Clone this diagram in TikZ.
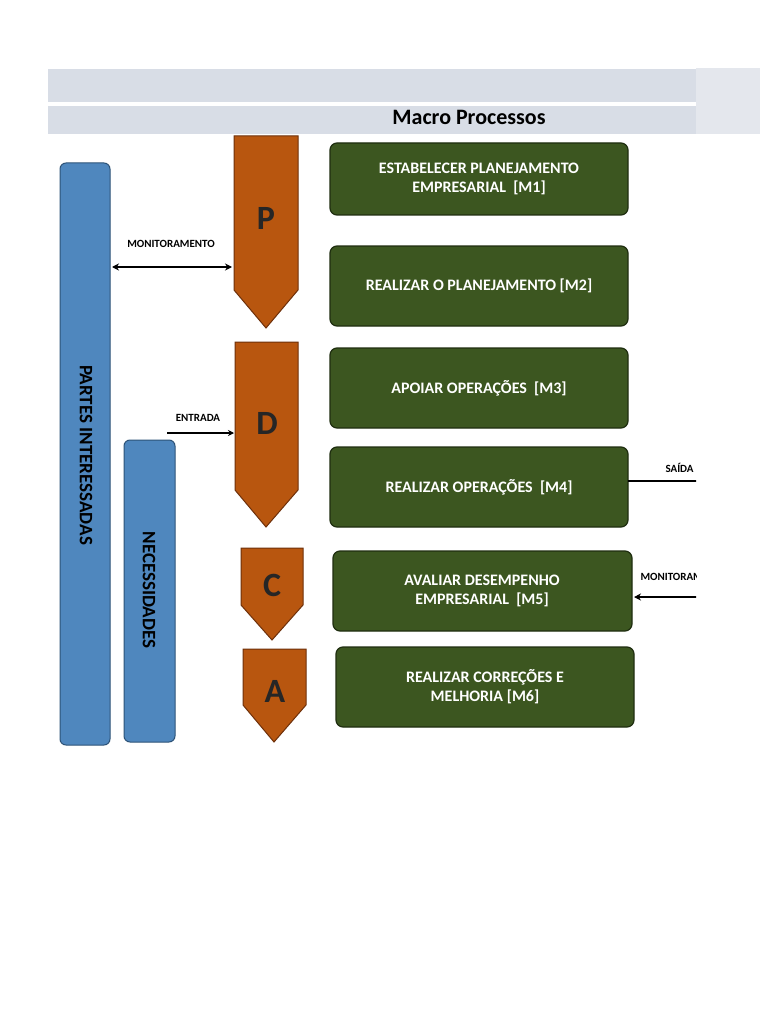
\documentclass[tikz,border=0pt]{standalone}
\usepackage{fontspec}
\setmainfont{Carlito}
\usetikzlibrary{arrows.meta}
\definecolor{band}{HTML}{D8DDE6}
\definecolor{gbox}{HTML}{3C5620}
\definecolor{gedge}{HTML}{1F2E10}
\definecolor{orng}{HTML}{B8560F}
\definecolor{oedge}{HTML}{6E300A}
\definecolor{blu}{HTML}{4F87BE}
\definecolor{bedge}{HTML}{2D5378}
\begin{document}
\begin{tikzpicture}[x=1pt,y=-1pt,
 gb/.style={fill=gbox,draw=gedge,line width=1.2pt,rounded corners=7pt},
 gt/.style={text=white,font=\bfseries\fontsize{16}{19}\selectfont,align=center},
 ob/.style={fill=orng,draw=oedge,line width=1pt},
 ol/.style={font=\bfseries\fontsize{34}{36}\selectfont,text=black!85},
 bb/.style={fill=blu,draw=bedge,line width=1pt,rounded corners=6pt},
 lab/.style={font=\bfseries\fontsize{11}{13}\selectfont},
 arr/.style={line width=2pt,-{Stealth[length=7pt,width=7pt]}}]
\useasboundingbox (0,0) rectangle (768,1024);
\fill[white] (0,0) rectangle (768,1024);
% header
\fill[band] (48,69) rectangle (696,102);
\fill[band] (48,106) rectangle (696,134);
\fill[band!70!white] (696,68) rectangle (760,134);
\node[font=\bfseries\fontsize{22}{24}\selectfont] (title) at (469,117) {Macro Processos};
% blue bars
\draw[bb] (60,163) rectangle (110,745);
\node[rotate=-90,font=\bfseries\fontsize{19}{21}\selectfont] (pi) at (86,455) {PARTES INTERESSADAS};
\draw[bb] (124,440) rectangle (175,742);
\node[rotate=-90,font=\bfseries\fontsize{19}{21}\selectfont] (nec) at (149,590) {NECESSIDADES};
% orange arrows
\draw[ob] (234,136) -- (298,136) -- (298,290) -- (266,328) -- (234,290) -- cycle;
\node[ol] (P) at (266,218) {P};
\draw[ob] (235,342) -- (298,342) -- (298,490) -- (266,527) -- (235,490) -- cycle;
\node[ol] (D) at (267,423) {D};
\draw[ob] (241,548) -- (303,548) -- (303,605) -- (272,640) -- (241,605) -- cycle;
\node[ol] (C) at (272,585) {C};
\draw[ob] (243,649) -- (306,649) -- (306,705) -- (274,742) -- (243,705) -- cycle;
\node[ol] (A) at (275,691) {A};
% green boxes
\draw[gb] (330,143) rectangle (628,215);
\node[gt] (m1) at (479,179) {ESTABELECER PLANEJAMENTO\\EMPRESARIAL\ \ [M1]};
\draw[gb] (330,246) rectangle (628,326);
\node[gt] (m2) at (479,286) {REALIZAR O PLANEJAMENTO [M2]};
\draw[gb] (330,348) rectangle (628,428);
\node[gt] (m3) at (479,388) {APOIAR OPERAÇÕES\ \ [M3]};
\draw[gb] (330,447) rectangle (628,527);
\node[gt] (m4) at (479,487) {REALIZAR OPERAÇÕES\ \ [M4]};
\draw[gb] (333,551) rectangle (632,631);
\node[gt] (m5) at (482,591) {AVALIAR DESEMPENHO\\EMPRESARIAL\ \ [M5]};
\draw[gb] (336,647) rectangle (634,727);
\node[gt] (m6) at (485,687) {REALIZAR CORREÇÕES E\\MELHORIA [M6]};
% connectors
\coordinate (l1) at (112,267); \coordinate (r1) at (232,267);
\draw[line width=2pt,{Stealth[length=7pt,width=7pt]}-{Stealth[length=7pt,width=7pt]}] (l1) -- (r1);
\node[lab] (mon) at (171,244) {MONITORAMENTO};
\coordinate (e1) at (167,433); \coordinate (e2) at (234,433);
\draw[line width=1.2pt,-{Stealth[length=6pt,width=6pt]}] (e1) -- (e2);
\node[lab] (ent) at (198,418) {ENTRADA};
\begin{scope}
\clip (600,400) rectangle (696,650);
\coordinate (s1) at (628,481); \coordinate (s2) at (700,481);
\draw[line width=1.5pt] (s1) -- (s2);
\node[lab,anchor=west] (sai) at (662,468) {SAÍDA};
\coordinate (t1) at (700,597); \coordinate (t2) at (634,597);
\draw[arr] (t1) -- (t2);
\node[lab,anchor=west] (mon2) at (637,577) {MONITORAMENTO};
\end{scope}
\end{tikzpicture}
\end{document}
